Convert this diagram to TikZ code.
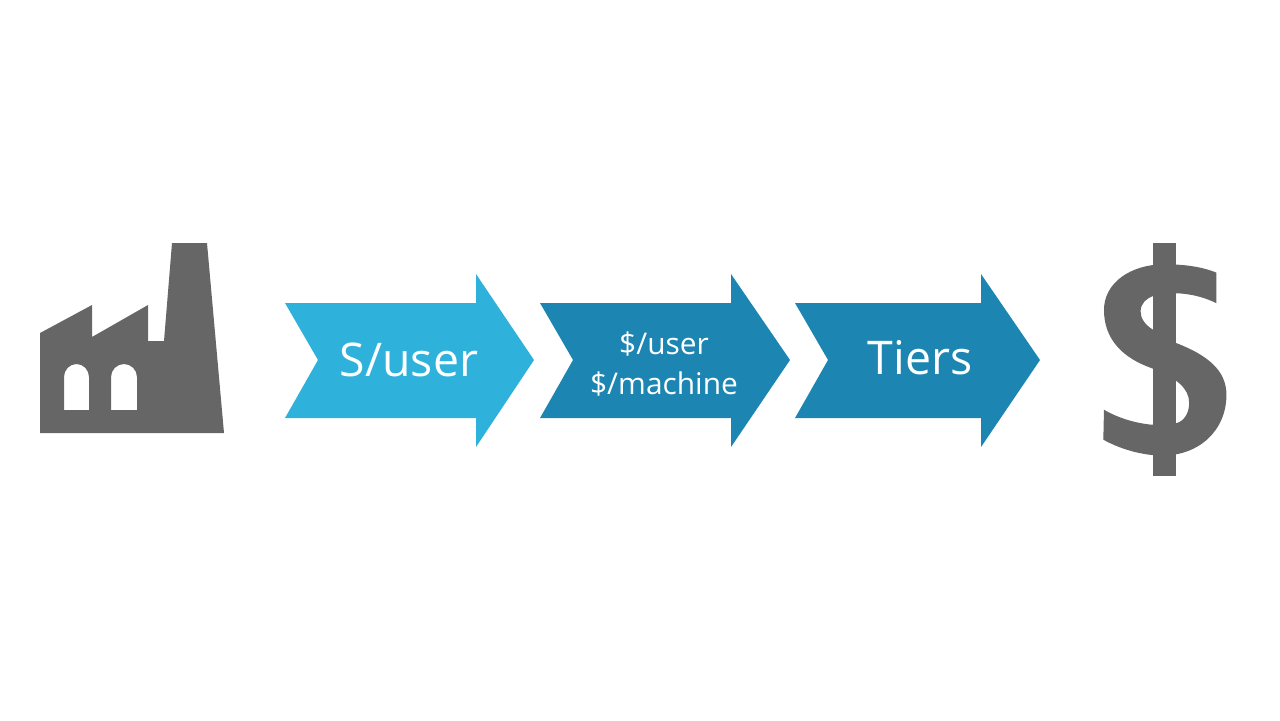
\documentclass[tikz,border=0pt]{standalone}
\usepackage{fontspec}
\setmainfont{Open Sans}
\definecolor{arrowlight}{rgb}{0.18,0.70,0.86}
\definecolor{arrowdark}{rgb}{0.11,0.52,0.70}
\definecolor{icongray}{rgb}{0.40,0.40,0.40}
\tikzstyle{every node}=[text=white,align=center,inner sep=0pt]
\tikzstyle{biglabel}=[font=\fontsize{13.2}{15}\selectfont]
\tikzstyle{smalllabel}=[font=\fontsize{8.5}{11.4}\selectfont]
\begin{document}
\begin{tikzpicture}[line cap=butt,line join=miter,x=0.01cm,y=-0.01cm]
    \clip (0,0) rectangle (1280,720);
    % factory
    \fill [color=icongray,even odd rule] (40,433) -- (40,333) -- (92,305) -- (92,337) -- (148,305) -- (148,341) -- (164,341) -- (172,243) -- (207,243) -- (224,433) -- cycle
        (64,410) -- (64,377) arc (180:360:12.5 and 13) -- (89,410) -- cycle
        (111,410) -- (111,377) arc (180:360:13 and 13) -- (137,410) -- cycle;
    % arrows
    \fill [color=arrowlight] (285,303) -- (476,303) -- (476,274) -- (534,360) -- (476,447) -- (476,418) -- (285,418) -- (318,360) -- cycle;
    \fill [color=arrowdark] (540,303) -- (731,303) -- (731,274) -- (790,360) -- (731,447) -- (731,418) -- (540,418) -- (573,360) -- cycle;
    \fill [color=arrowdark] (795,303) -- (981,303) -- (981,274) -- (1040,360) -- (981,447) -- (981,418) -- (795,418) -- (828,360) -- cycle;
    \node [biglabel] (peruser) at (409,360) {S/user};
    \node [smalllabel] (permachine) at (664,364) {\$/user\\\$/machine};
    \node [biglabel] (tiers) at (920,358) {Tiers};
    % dollar sign
    \begin{scope}[shift={(1080,230)},x=0.003333cm,y=-0.003333cm]
        \fill [color=icongray] (220,40) rectangle (289,740);
        \fill [color=icongray] (410,128) .. controls (370,112) and (320,103) .. (255,103)
            .. controls (150,103) and (72,160) .. (72,240)
            .. controls (72,330) and (130,385) .. (215,415)
            .. controls (290,445) and (328,475) .. (328,520)
            .. controls (328,550) and (312,575) .. (290,580)
            -- (215,585)
            .. controls (165,580) and (115,565) .. (72,540)
            -- (70,630)
            .. controls (115,655) and (175,675) .. (240,678)
            .. controls (360,680) and (440,600) .. (440,495)
            .. controls (440,420) and (380,375) .. (290,340)
            -- (220,300)
            .. controls (195,285) and (182,265) .. (182,245)
            .. controls (182,220) and (200,205) .. (220,198)
            -- (290,190)
            .. controls (340,192) and (380,205) .. (410,220)
            -- cycle;
    \end{scope}
\end{tikzpicture}
\end{document}
